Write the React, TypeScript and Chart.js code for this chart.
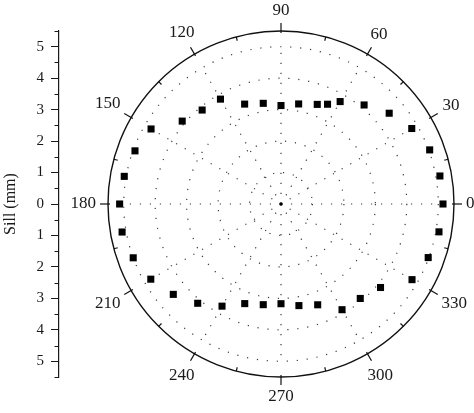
import { useEffect, useRef } from 'react';
import { Chart, registerables } from 'chart.js';

Chart.register(...registerables);

// measured points: polar angle (deg) and sill opening (mm)
const angles = [
  0, 10, 20, 30, 40, 50, 60, 65, 70, 80, 90, 100, 110, 120, 130, 140, 150, 160, 170, 180,
  190, 200, 210, 220, 230, 240, 250, 260, 270, 280, 290, 300, 310, 320, 330, 340, 350,
];
const sill = [
  5.15, 5.13, 5.03, 4.8, 4.49, 4.11, 3.76, 3.5, 3.37, 3.23, 3.13, 3.25, 3.38, 3.85, 3.9, 4.1, 4.77, 4.94, 5.06, 5.13,
  5.13, 5.0, 4.78, 4.47, 4.12, 3.75, 3.37, 3.25, 3.17, 3.28, 3.41, 3.88, 3.92, 4.13, 4.81, 4.98, 5.1,
];

const angleStep = 5;
const ringValues = [0, 1, 2, 3, 4, 5, 5.5];
const angleLabels = [0, 30, 60, 90, 120, 150, 180, 210, 240, 270, 300, 330];
const minorAngles = [15, 45, 75, 105, 135, 165, 195, 225, 255, 285, 315, 345];
const sillTicks = [-5, -4, -3, -2, -1, 0, 1, 2, 3, 4, 5];
const sillMinorTicks = [-5.5, -4.5, -3.5, -2.5, -1.5, -0.5, 0.5, 1.5, 2.5, 3.5, 4.5, 5.5];

const FONT = '"Liberation Serif", "Times New Roman", serif';
const INK = '#1a1a1a';
const DOTS = '#3a3a3a';
const outer = ringValues[ringValues.length - 1];
const lastRing = ringValues[ringValues.length - 2];

// radar slots go clockwise from 3 o'clock, angles go counter-clockwise
const slots = Array.from({ length: 360 / angleStep }, (_, i) => (360 - i * angleStep) % 360);
const slotOf = (a: number) => ((360 - a) % 360) / angleStep;

const polarFrame = {
  id: 'polarFrame',
  beforeDatasetsDraw(chart: any) {
    const r = chart.scales.r;
    const g = chart.ctx;
    g.save();
    g.strokeStyle = DOTS;
    g.lineWidth = 1.2;
    g.setLineDash([1.2, 8.8]);
    angleLabels.forEach((a) => {
      const p = r.getPointPositionForValue(slotOf(a), lastRing);
      g.beginPath();
      g.moveTo(r.xCenter, r.yCenter);
      g.lineTo(p.x, p.y);
      g.stroke();
    });
    g.setLineDash([]);
    g.fillStyle = '#000';
    g.beginPath();
    g.arc(r.xCenter, r.yCenter, 1.8, 0, Math.PI * 2);
    g.fill();
    g.restore();
  },
  afterDraw(chart: any) {
    const r = chart.scales.r;
    const g = chart.ctx;
    const R = r.drawingArea;
    g.save();
    g.strokeStyle = '#111';
    g.lineWidth = 1.2;
    const seg = (a: number, d1: number, d2: number) => {
      const p1 = r.getPointPosition(slotOf(a), d1);
      const p2 = r.getPointPosition(slotOf(a), d2);
      g.beginPath();
      g.moveTo(p1.x, p1.y);
      g.lineTo(p2.x, p2.y);
      g.stroke();
    };
    angleLabels.forEach((a) => seg(a, R - 2, R + 8));
    minorAngles.forEach((a) => seg(a, R - 4, R));

    g.font = `17px ${FONT}`;
    g.fillStyle = INK;
    g.textAlign = 'center';
    g.textBaseline = 'middle';
    angleLabels.forEach((a) => {
      const t = String(a);
      const w = g.measureText(t).width;
      const rad = (a * Math.PI) / 180;
      const d = R + 12 + (Math.abs(Math.cos(rad)) * w) / 2 + Math.abs(Math.sin(rad)) * 8;
      const p = r.getPointPosition(slotOf(a), d);
      g.fillText(t, p.x, p.y);
    });
    g.restore();
  },
};

const minorTicks = {
  id: 'minorTicks',
  afterDraw(chart: any) {
    const y = chart.scales.y;
    const g = chart.ctx;
    g.save();
    g.strokeStyle = INK;
    g.lineWidth = 1;
    sillMinorTicks.forEach((v) => {
      const py = Math.round(y.getPixelForValue(v)) + 0.5;
      g.beginPath();
      g.moveTo(y.right - 4.5, py);
      g.lineTo(y.right, py);
      g.stroke();
    });
    g.restore();
  },
};

const App = () => {
  const polarRef = useRef<HTMLCanvasElement | null>(null);
  const axisRef = useRef<HTMLCanvasElement | null>(null);

  useEffect(() => {
    if (!polarRef.current || !axisRef.current) return;

    const data = slots.map((a) => {
      const k = angles.indexOf(a);
      return k < 0 ? null : sill[k];
    });

    const polar = new Chart(polarRef.current, {
      type: 'radar',
      data: {
        labels: slots.map(String),
        datasets: [
          {
            data,
            fill: false,
            showLine: false,
            spanGaps: true,
            borderWidth: 0,
            backgroundColor: 'transparent',
            pointStyle: 'rect',
            pointRadius: 5,
            pointBackgroundColor: '#000',
            pointBorderWidth: 0,
          },
        ],
      },
      options: {
        responsive: false,
        animation: false,
        layout: { padding: { left: 108, right: 20, top: 31, bottom: 36 } },
        plugins: { legend: { display: false }, tooltip: { enabled: false } },
        scales: {
          r: {
            min: 0,
            max: outer,
            startAngle: 90,
            afterBuildTicks: (s: any) => {
              s.ticks = ringValues.map((v) => ({ value: v }));
            },
            ticks: { display: false },
            pointLabels: { display: false },
            angleLines: { display: false },
            grid: {
              circular: true,
              color: (c: any) => (c.tick.value === outer ? '#111' : DOTS),
              lineWidth: (c: any) => (c.tick.value === outer ? 1.4 : 1.2),
            },
            border: { dash: (c: any) => (c.tick.value === outer ? [] : [1.2, 8.8]) },
          },
        },
      } as any,
      plugins: [polarFrame],
    });

    const axis = new Chart(axisRef.current, {
      type: 'scatter',
      data: { datasets: [] },
      options: {
        responsive: false,
        animation: false,
        layout: { padding: { left: 0, right: 0, top: 31, bottom: 36 } },
        plugins: { legend: { display: false }, tooltip: { enabled: false } },
        scales: {
          x: { display: false },
          y: {
            position: 'left',
            min: -outer,
            max: outer,
            afterBuildTicks: (s: any) => {
              s.ticks = sillTicks.map((v) => ({ value: v }));
            },
            afterFit: (s: any) => {
              s.width = 59;
            },
            ticks: {
              callback: (v: any) => String(Math.abs(Number(v))),
              font: { family: FONT, size: 15 },
              color: INK,
              padding: 7,
            },
            grid: { drawOnChartArea: false, tickLength: 8, tickColor: INK },
            border: { color: INK, width: 1.2 },
            title: {
              display: true,
              text: 'Sill (mm)',
              font: { family: FONT, size: 16 },
              color: INK,
              padding: { top: 1, bottom: 0 },
            },
          },
        },
      } as any,
      plugins: [minorTicks],
    });

    return () => {
      polar.destroy();
      axis.destroy();
    };
  }, []);

  return (
    <div style={{ position: 'absolute', left: 0, top: 0, width: 474, height: 413, background: '#fff' }}>
      <canvas ref={polarRef} width={474} height={413} style={{ position: 'absolute', left: 0, top: 0 }} />
      <canvas ref={axisRef} width={64} height={413} style={{ position: 'absolute', left: 0, top: 0 }} />
    </div>
  );
};

export default App;
